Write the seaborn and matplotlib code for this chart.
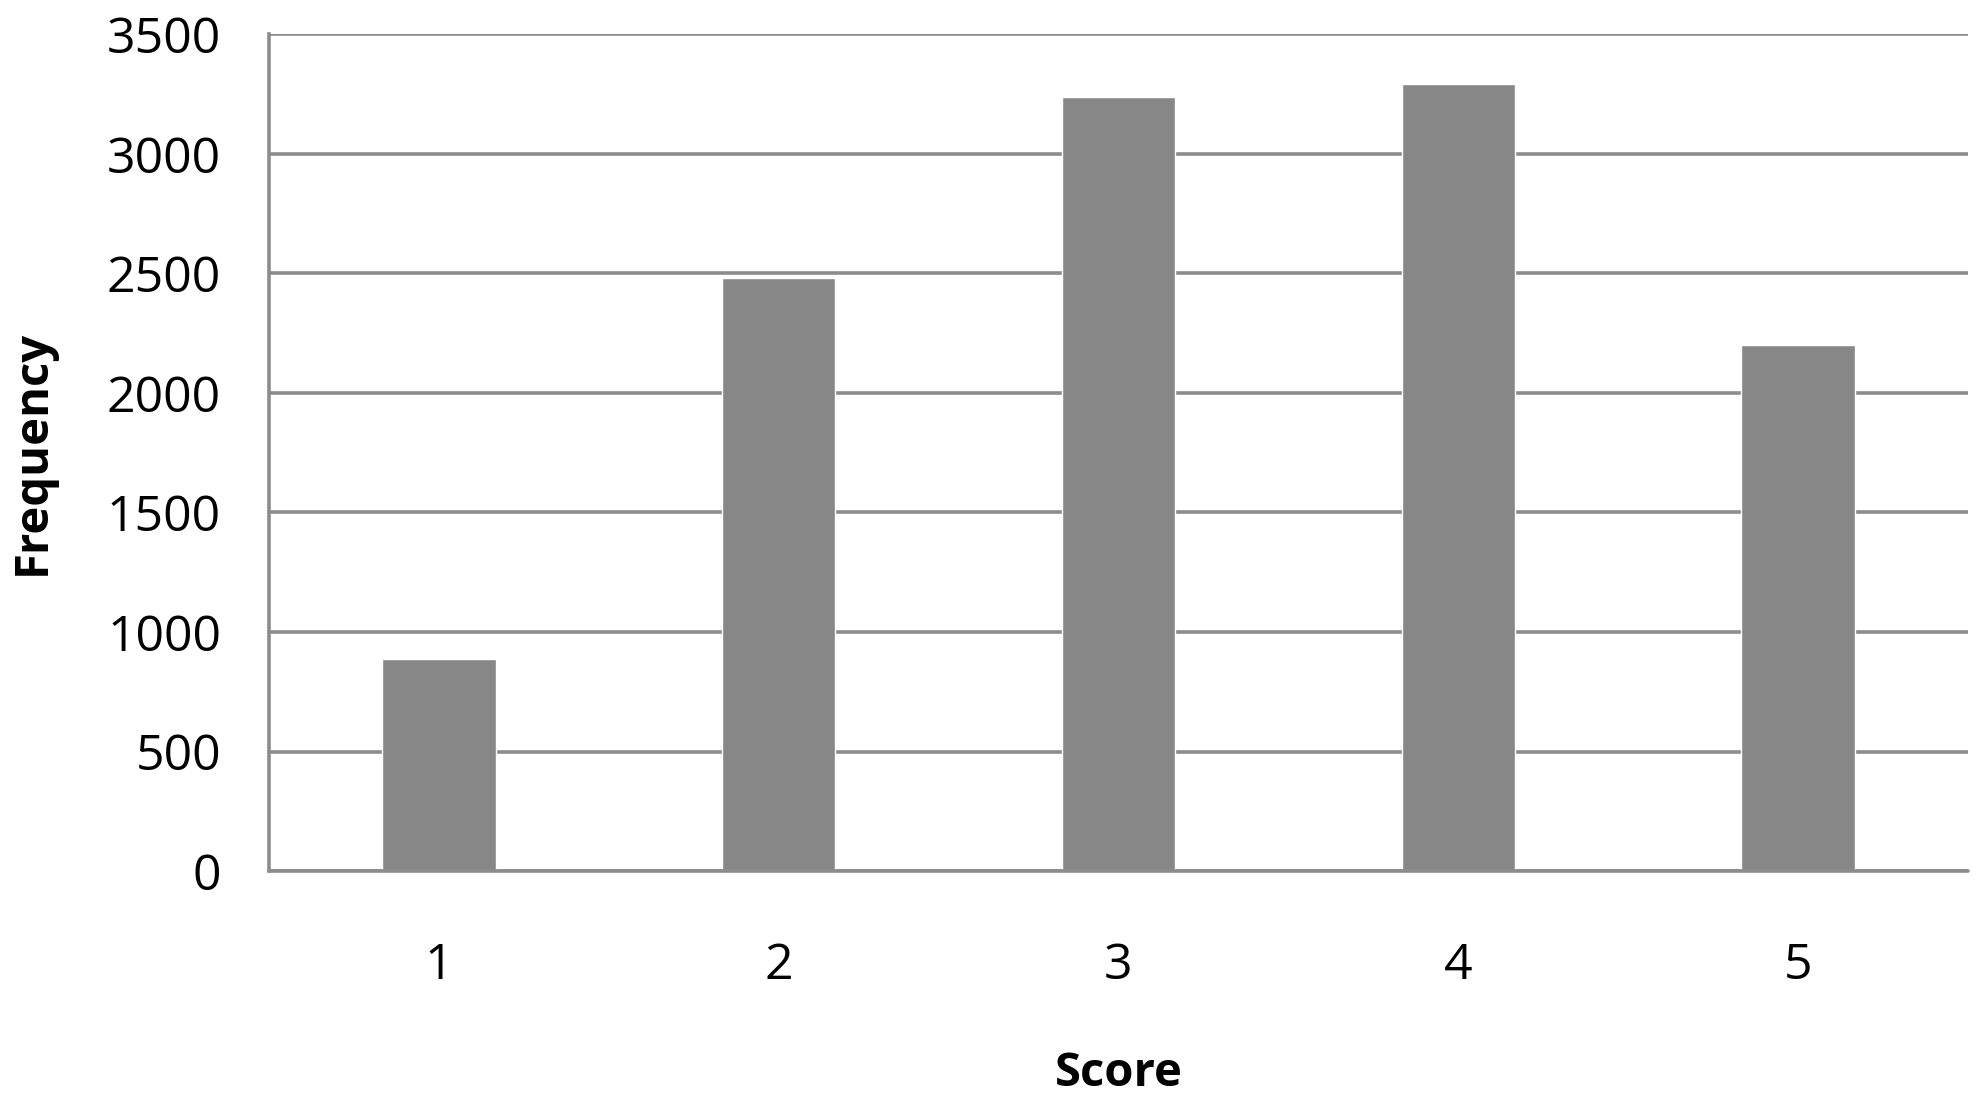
import matplotlib
matplotlib.use("Agg")
import matplotlib.pyplot as plt
import pandas as pd
import seaborn as sns

# bar values
scores = ["1", "2", "3", "4", "5"]
frequency = [888, 2480, 3238, 3290, 2200]
y_ticks = [0, 500, 1000, 1500, 2000, 2500, 3000, 3500]

df = pd.DataFrame({"Score": scores, "Frequency": frequency})

sns.set_style("white")
plt.rcParams["font.family"] = ["Open Sans", "DejaVu Sans"]

fig = plt.figure(figsize=(19.81, 11.04), dpi=100)
ax = fig.add_axes([0.1358, 0.211, 0.8576, 0.758])

grey = "#878787"
sns.barplot(data=df, x="Score", y="Frequency", color=grey, saturation=1,
            width=0.334, ax=ax, zorder=3)

ax.set_ylim(0, 3500)
ax.set_yticks(y_ticks)
ax.set_yticklabels([str(t) for t in y_ticks])
ax.yaxis.grid(True, color="#8c8c8c", linewidth=2.6, zorder=0)
ax.set_axisbelow(True)

for s in ["top", "right", "bottom"]:
    ax.spines[s].set_visible(False)
ax.spines["left"].set_color("#8c8c8c")
ax.spines["left"].set_linewidth(2.6)

ax.tick_params(axis="y", direction="out", length=12.5, width=2.6, color="#8c8c8c",
               labelsize=36, labelcolor="black", pad=22)
ax.tick_params(axis="x", length=0, labelsize=36, labelcolor="black", pad=51)
# zero line across the full width
ax.axhline(0, color="#8c8c8c", linewidth=2.6, zorder=4, clip_on=False)

ax.set_xlabel("Score", fontsize=34, fontweight="bold", color="black", labelpad=42)
ax.set_ylabel("Frequency", fontsize=34, fontweight="bold", color="black", labelpad=37)

fig.savefig("out.png", dpi=100)
